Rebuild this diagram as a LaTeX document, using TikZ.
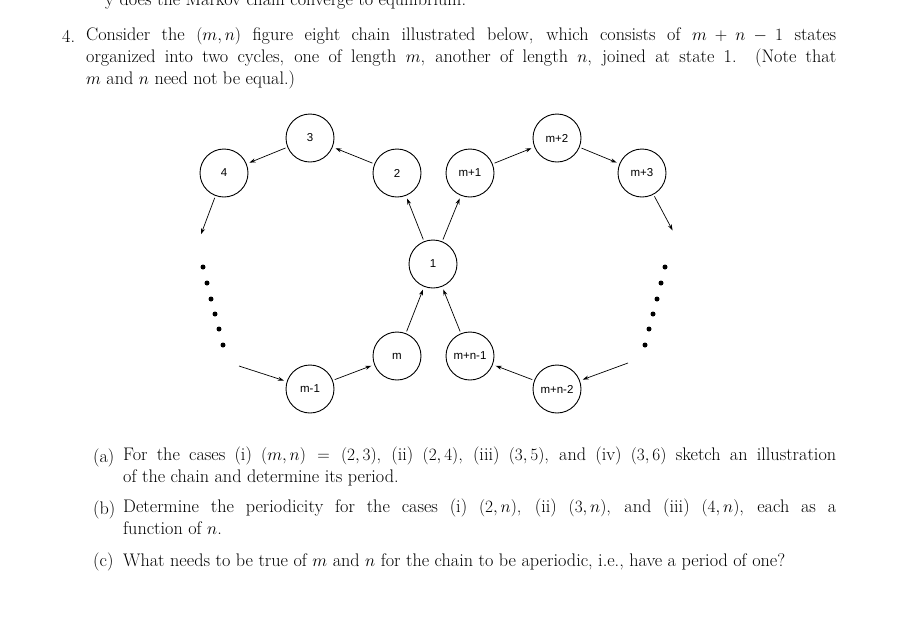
\documentclass[tikz,border=0pt]{standalone}
\usepackage{fontspec}
\newfontfamily\lab{Liberation Sans}
\usetikzlibrary{arrows.meta}
\begin{document}
\begin{tikzpicture}[x=1pt,y=-1pt,
  st/.style={circle,draw,line width=0.9pt,minimum size=48pt,inner sep=0pt,font=\lab\fontsize{11.5}{13}\selectfont},
  ar/.style={line width=0.7pt,-{Stealth[length=6pt,width=4pt]},shorten >=3pt,shorten <=2pt},
  dt/.style={circle,fill,inner sep=0pt,minimum size=5pt},
  tf/.style={font=\fontsize{18.2}{22}\selectfont},
  txt/.style={tf,anchor=north west,inner sep=0pt,align=justify}]
\useasboundingbox (0,0) rectangle (914,630);
\begin{scope}
\clip (0,0) rectangle (914,630);
\node[tf,anchor=base west,inner sep=0pt] (top) at (105,5) {y does the Markov chain converge to equilibrium.};
\end{scope}
\node[tf,anchor=base west,inner sep=0pt] (n4) at (62,42) {4.};
\node[txt,text width=750pt] (p) at (86,27) {Consider the $(m,n)$ figure eight chain illustrated below, which consists of $m+n-1$ states\linebreak organized into two cycles, one of length $m$, another of length $n$, joined at state 1. (Note that\linebreak $m$ and $n$ need not be equal.)};

\node[st] (s3) at (310,138) {3};
\node[st] (s4) at (224,173) {4};
\node[st] (s2) at (397,173) {2};
\node[st] (s1) at (433,264) {1};
\node[st] (sm) at (397,356) {m};
\node[st] (sm1) at (310,389) {m-1};
\node[st] (sp1) at (470,173) {m+1};
\node[st] (sp2) at (557,138) {m+2};
\node[st] (sp3) at (642,173) {m+3};
\node[st] (sn1) at (470,356) {m+n-1};
\node[st] (sn2) at (557,389) {m+n-2};
\coordinate (l1) at (200,237);
\coordinate (l2) at (239,366);
\coordinate (r1) at (674,233);
\coordinate (r2) at (628,363);
\foreach \i/\x/\y in {1/203/267,2/207/283,3/211/299,4/215/314,5/219/329,6/223/345}{\node[dt] (dl\i) at (\x,\y) {};}
\foreach \i/\x/\y in {1/665/267,2/661/283,3/657/299,4/653/314,5/649/329,6/645/345}{\node[dt] (dr\i) at (\x,\y) {};}
\draw[ar] (s2) -- (s3);
\draw[ar] (s3) -- (s4);
\draw[ar] (s4) -- (l1);
\draw[ar,shorten <=0pt] (l2) -- (sm1);
\draw[ar] (sm1) -- (sm);
\draw[ar] (sm) -- (s1);
\draw[ar] (s1) -- (s2);
\draw[ar] (s1) -- (sp1);
\draw[ar] (sp1) -- (sp2);
\draw[ar] (sp2) -- (sp3);
\draw[ar] (sp3) -- (r1);
\draw[ar,shorten <=0pt] (r2) -- (sn2);
\draw[ar] (sn2) -- (sn1);
\draw[ar] (sn1) -- (s1);

\node[tf,anchor=base west,inner sep=0pt] (la) at (93,462) {(a)};
\node[txt,text width=713pt] (pa) at (123,447) {For the cases (i) $(m,n)=(2,3)$, (ii) $(2,4)$, (iii) $(3,5)$, and (iv) $(3,6)$ sketch an illustration\linebreak of the chain and determine its period.};
\node[tf,anchor=base west,inner sep=0pt] (lb) at (93,514) {(b)};
\node[txt,text width=713pt] (pb) at (123,499) {Determine the periodicity for the cases (i) $(2,n)$, (ii) $(3,n)$, and (iii) $(4,n)$, each as a\linebreak function of $n$.};
\node[tf,anchor=base west,inner sep=0pt] (lc) at (93,566) {(c)};
\node[tf,anchor=base west,inner sep=0pt] (pc) at (123,566) {What needs to be true of $m$ and $n$ for the chain to be aperiodic, i.e., have a period of one?};
\end{tikzpicture}
\end{document}
